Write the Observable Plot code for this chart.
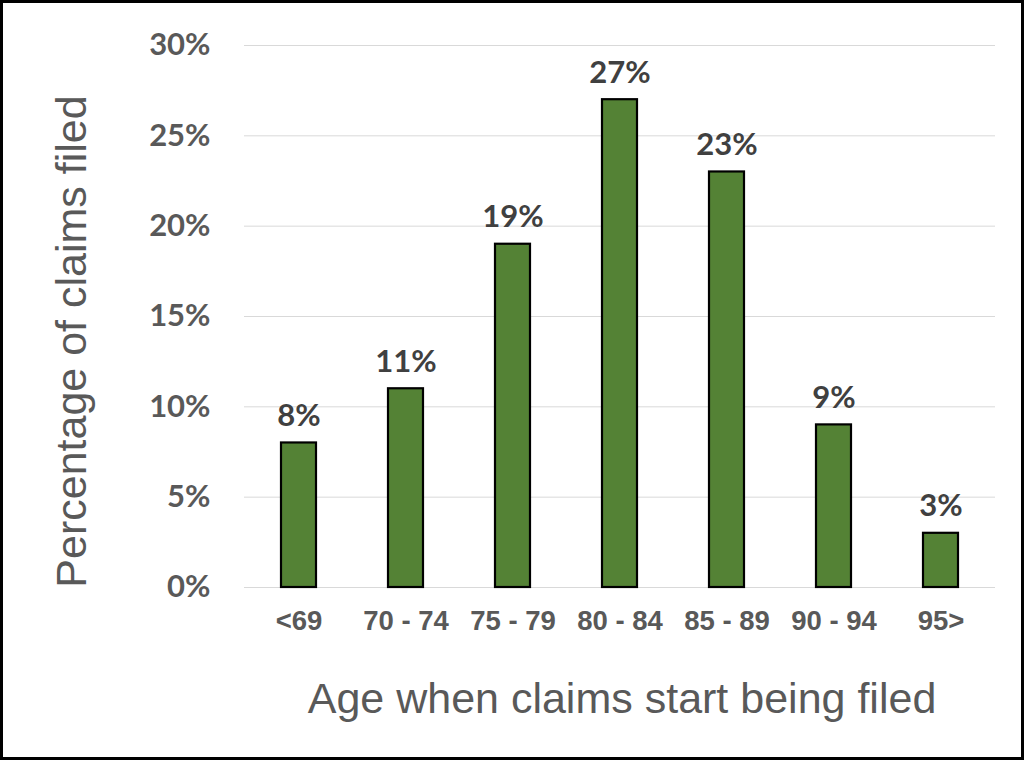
<!DOCTYPE html>
<html>
<head>
<meta charset="utf-8">
<script src="https://cdn.jsdelivr.net/npm/d3@7"></script>
<script src="https://cdn.jsdelivr.net/npm/@observablehq/plot@0.6"></script>
<style>
  html, body { margin: 0; padding: 0; background: #fff; }
  #chart svg { display: block; outline: 3px solid #000; outline-offset: -3px; background: #fff; }
</style>
</head>
<body>
<div id="chart"></div>
<script>
const ageGroups = ["<69", "70 - 74", "75 - 79", "80 - 84", "85 - 89", "90 - 94", "95>"];
const percentages = [8, 11, 19, 27, 23, 9, 3];
const yTicks = [0, 5, 10, 15, 20, 25, 30];
const yTitle = "Percentage of claims filed";
const xTitle = "Age when claims start being filed";

const data = ageGroups.map((g, i) => ({group: g, value: percentages[i]}));

const chart = Plot.plot({
  width: 1024,
  height: 760,
  marginLeft: 244,
  marginRight: 29,
  marginTop: 45,
  marginBottom: 173,
  style: {background: "#fff"},
  x: {domain: ageGroups, paddingInner: 0.673, paddingOuter: 0.336, axis: null},
  y: {domain: [0, 30], axis: null},
  marks: [
    Plot.gridY(yTicks, {stroke: "#d9d9d9", strokeOpacity: 1, strokeWidth: 1}),
    Plot.axisY(yTicks, {
      tickSize: 0, tickPadding: 34, label: null,
      tickFormat: d => d + "%",
      fontSize: 31, fontWeight: "bold", fontFamily: "Lato", color: "#595959"
    }),
    Plot.axisX({
      tickSize: 0, tickPadding: 23, label: null,
      fontSize: 27.5, fontWeight: "bold", fontFamily: "Liberation Sans", color: "#595959"
    }),
    Plot.barY(data, {x: "group", y: "value", fill: "#548235", stroke: "#000", strokeWidth: 2.2}),
    Plot.text(data, {
      x: "group", y: "value", text: d => d.value + "%",
      lineAnchor: "bottom", dy: -17,
      fontSize: 31, fontWeight: "bold", fontFamily: "Lato", fill: "#404040"
    }),
    Plot.text([yTitle], {
      frameAnchor: "left", rotate: -90, lineAnchor: "middle", textAnchor: "middle",
      dx: -172, dy: 25,
      fontSize: 43, fontFamily: "Liberation Sans", fill: "#595959"
    }),
    Plot.text([xTitle], {
      frameAnchor: "bottom", lineAnchor: "middle", textAnchor: "middle",
      dx: 2, dy: 112,
      fontSize: 43, fontFamily: "Liberation Sans", fill: "#595959"
    })
  ]
});
document.getElementById("chart").appendChild(chart);
</script>
</body>
</html>
